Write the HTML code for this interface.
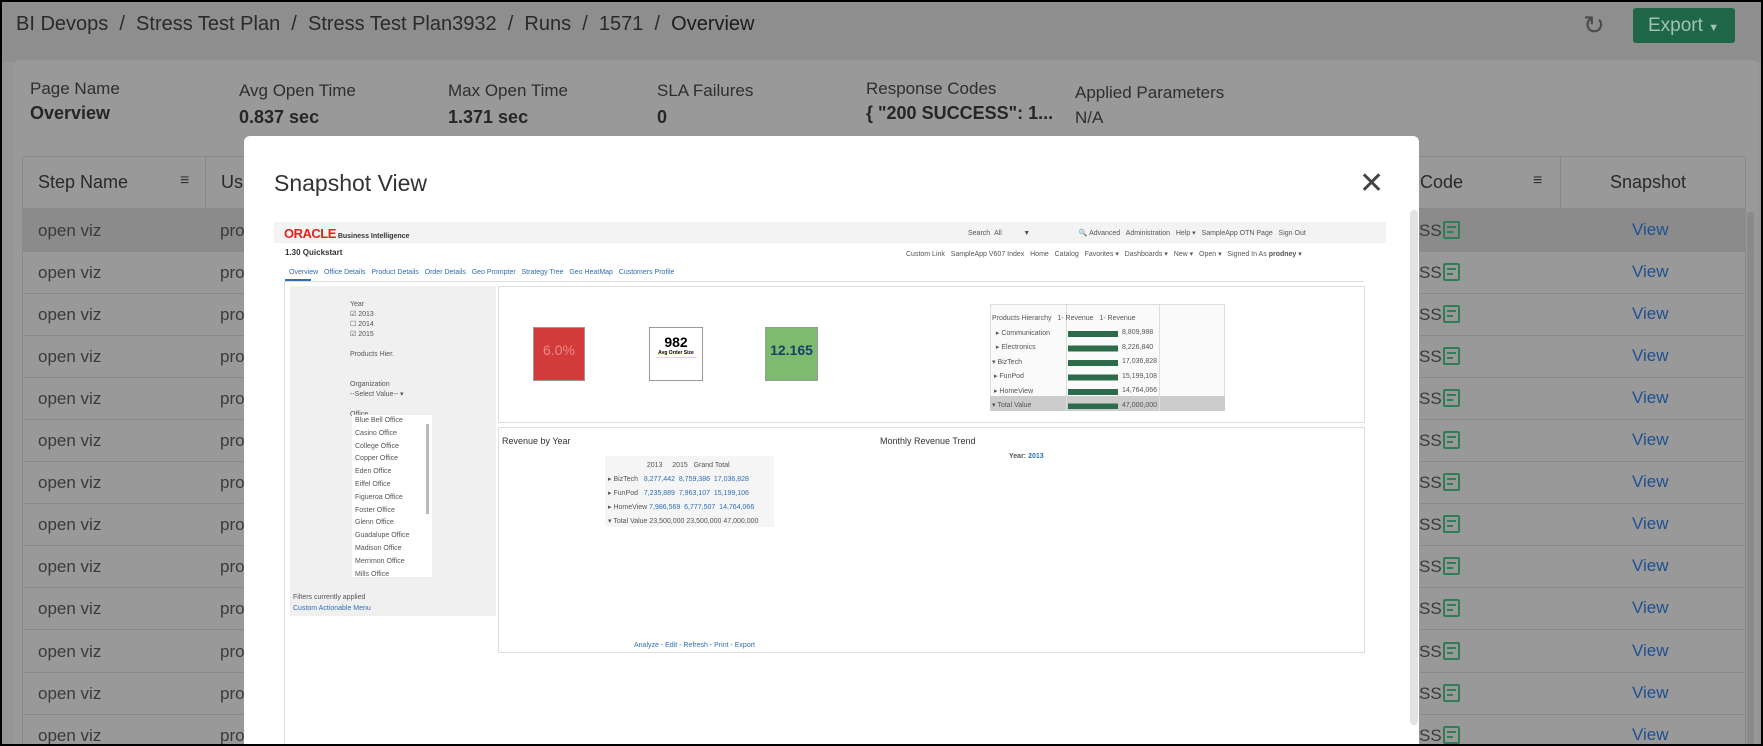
<!DOCTYPE html>
<html><head><meta charset="utf-8"><style>
*{margin:0;padding:0;box-sizing:border-box}
html{width:1763px;height:746px;overflow:hidden}
body{width:1763px;height:746px;overflow:hidden;background:#959595;font-family:"Liberation Sans",sans-serif;position:relative}
.a{position:absolute;white-space:nowrap}
.frame{position:absolute;left:0;top:0;width:1763px;height:746px;border:2px solid #000;z-index:50;pointer-events:none}
.s{font-size:7px;color:#555}
</style></head><body>
<!-- header -->
<div class="a" style="left:0;top:0;width:1763px;height:62px;background:#8e8e8e"></div>
<div class="a" style="left:16px;top:13px;font-size:20px;color:#2a2a2a">BI Devops &nbsp;/&nbsp; Stress Test Plan &nbsp;/&nbsp; Stress Test Plan3932 &nbsp;/&nbsp; Runs &nbsp;/&nbsp; 1571 &nbsp;/&nbsp; <span style="color:#1c1c1c">Overview</span></div>
<div class="a" style="left:1583px;top:10px;font-size:26px;color:#4a4a4a">&#x21bb;</div>
<div class="a" style="left:1633px;top:8px;width:102px;height:35px;background:#1f6547;border-radius:3px;color:#9fc4b2;font-size:19px;line-height:35px;padding-left:15px">Export <span style="font-size:11px">&#9660;</span></div>
<!-- metrics panel -->
<div class="a" style="left:14px;top:60px;width:1744px;height:686px;background:#999;border-radius:6px 6px 0 0"></div>
<div class="a" style="left:30px;top:79px;font-size:17px;color:#2e2e2e">Page Name</div>
<div class="a" style="left:30px;top:103px;font-size:18px;font-weight:bold;color:#262626">Overview</div>
<div class="a" style="left:239px;top:81px;font-size:17px;color:#2e2e2e">Avg Open Time</div>
<div class="a" style="left:239px;top:107px;font-size:18px;font-weight:bold;color:#262626">0.837 sec</div>
<div class="a" style="left:448px;top:81px;font-size:17px;color:#2e2e2e">Max Open Time</div>
<div class="a" style="left:448px;top:107px;font-size:18px;font-weight:bold;color:#262626">1.371 sec</div>
<div class="a" style="left:657px;top:81px;font-size:17px;color:#2e2e2e">SLA Failures</div>
<div class="a" style="left:657px;top:107px;font-size:18px;font-weight:bold;color:#262626">0</div>
<div class="a" style="left:866px;top:79px;font-size:17px;color:#2e2e2e">Response Codes</div>
<div class="a" style="left:866px;top:103px;font-size:18px;font-weight:bold;color:#262626">{ "200 SUCCESS": 1...</div>
<div class="a" style="left:1075px;top:83px;font-size:17px;color:#2e2e2e">Applied Parameters</div>
<div class="a" style="left:1075px;top:108px;font-size:17px;color:#2e2e2e">N/A</div>
<!-- table -->
<div class="a" style="left:22px;top:156px;width:1724px;height:590px;background:#999;border:1px solid #888;border-bottom:none"></div>
<div class="a" style="left:22px;top:156px;width:1724px;height:53px;border-bottom:1px solid #888"></div>
<div class="a" style="left:205px;top:156px;width:1px;height:53px;background:#888"></div>
<div class="a" style="left:1560px;top:156px;width:1px;height:53px;background:#888"></div>
<div class="a" style="left:38px;top:172px;font-size:18px;color:#2a2a2a">Step Name</div>
<div class="a" style="left:180px;top:172px;font-size:16px;color:#333">&#8801;</div>
<div class="a" style="left:221px;top:172px;font-size:18px;color:#2a2a2a">Us</div>
<div class="a" style="left:1420px;top:172px;font-size:18px;color:#2a2a2a">Code</div>
<div class="a" style="left:1533px;top:172px;font-size:16px;color:#333">&#8801;</div>
<div class="a" style="left:1610px;top:172px;font-size:18px;color:#2a2a2a">Snapshot</div>
<div class="a" style="left:22px;top:209px;width:1724px;height:43px;background:#8b8b8b"></div>
<div class="a" style="left:1747px;top:212px;width:7px;height:534px;background:#8a8a8a;border-radius:3px"></div>
<div id="rows"></div>
<!-- modal -->
<div class="a" style="left:244px;top:136px;width:1175px;height:610px;background:#fff;border-radius:6px 6px 0 0"></div>
<div class="a" style="left:274px;top:170px;font-size:23px;color:#333">Snapshot View</div>
<div class="a" style="left:1359px;top:166px;font-size:30px;color:#444;font-weight:300">&#x2715;</div>
<div class="a" style="left:1410px;top:210px;width:8px;height:515px;background:#e2e2e2;border-radius:4px"></div>
<!-- inner screenshot -->
<div class="a" style="left:274px;top:222px;width:1112px;height:524px;background:#fff"></div>
<div class="a" style="left:274px;top:222px;width:1112px;height:21px;background:#f3f3f3"></div>
<div class="a" style="left:284px;top:226px;font-size:13px;color:#e2231a;font-weight:bold;letter-spacing:-0.5px">ORACLE<span style="font-size:7px;color:#333;letter-spacing:0"> Business Intelligence</span></div>
<div class="a s" style="left:968px;top:229px">Search &nbsp;All &nbsp; &nbsp; &nbsp; &nbsp; &nbsp; &#9660; &nbsp; &nbsp; &nbsp; &nbsp; &nbsp; &nbsp; &nbsp; &nbsp; &nbsp; &nbsp; &nbsp; &nbsp; &#x1F50D; Advanced &nbsp; Administration &nbsp; Help &#9662; &nbsp; SampleApp OTN Page &nbsp; Sign Out</div>
<div class="a" style="left:285px;top:248px;font-size:8px;font-weight:bold;color:#333">1.30 Quickstart</div>
<div class="a s" style="left:906px;top:250px">Custom Link &nbsp; SampleApp V607 Index &nbsp; Home &nbsp; Catalog &nbsp; Favorites &#9662; &nbsp; Dashboards &#9662; &nbsp; New &#9662; &nbsp; Open &#9662; &nbsp; Signed In As <b>prodney</b> &#9662;</div>
<div class="a s" style="left:289px;top:269px;color:#2f6fb5">Overview &nbsp; Office Details &nbsp; Product Details &nbsp; Order Details &nbsp; Geo Prompter &nbsp; Strategy Tree &nbsp; Geo HeatMap &nbsp; Customers Profile</div>
<div class="a" style="left:285px;top:279px;width:26px;height:2px;background:#2f6fb5"></div>
<div class="a" style="left:284px;top:281px;width:1080px;height:1px;background:#ddd"></div>
<div class="a" style="left:284px;top:281px;width:1px;height:465px;background:#ddd"></div>
<div class="a" style="left:290px;top:286px;width:206px;height:330px;background:#f0f0f0"></div>
<div class="a s" style="left:350px;top:300px;line-height:10px">Year<br>&#9745; 2013<br>&#9744; 2014<br>&#9745; 2015<br><br>Products Hier.<br><br><br>Organization<br>--Select Value-- &#9662;<br><br>Office</div>
<div class="a s" style="left:352px;top:415px;width:80px;height:162px;background:#fff;line-height:12.8px;padding-left:3px">Blue Bell Office<br>Casino Office<br>College Office<br>Copper Office<br>Eden Office<br>Eiffel Office<br>Figueroa Office<br>Foster Office<br>Glenn Office<br>Guadalupe Office<br>Madison Office<br>Merrimon Office<br>Mills Office</div>
<div class="a" style="left:426px;top:424px;width:3px;height:90px;background:#bbb"></div>
<div class="a s" style="left:293px;top:592px;line-height:11px">Filters currently applied<br><span style="color:#2f6fb5">Custom Actionable Menu</span></div>
<div class="a" style="left:498px;top:286px;width:867px;height:137px;border:1px solid #ddd"></div>
<div class="a" style="left:533px;top:327px;width:52px;height:54px;background:#d33b3b;border:1px solid #999;color:#e88;font-size:14px;text-align:center;padding-top:14px">6.0%</div>
<div class="a" style="left:649px;top:327px;width:54px;height:54px;background:#fff;border:1px solid #999;text-align:center;font-size:14px;font-weight:bold;padding-top:6px">982<div style="font-size:5px">Avg Order Size</div><div style="height:1px;background:#ee3;margin:1px 6px"></div></div>
<div class="a" style="left:765px;top:327px;width:53px;height:54px;background:#7dbb6e;border:1px solid #999;color:#1a3f6a;font-size:14px;font-weight:bold;text-align:center;padding-top:14px">12.165</div>
<div class="a" style="left:990px;top:304px;width:235px;height:107px;background:#fafafa;border:1px solid #ddd"></div>
<div class="a" style="left:990px;top:396px;width:235px;height:15px;background:#ccc"></div>
<div class="a" style="left:1066px;top:304px;width:1px;height:107px;background:#ddd"></div>
<div class="a" style="left:1159px;top:304px;width:1px;height:107px;background:#ddd"></div>
<div class="a s" style="left:992px;top:312px;line-height:14.5px">Products Hierarchy &nbsp; 1- Revenue &nbsp; 1- Revenue<br>&nbsp; &#9656; Communication<br>&nbsp; &#9656; Electronics<br>&#9662; BizTech<br>&nbsp;&#9656; FunPod<br>&nbsp;&#9656; HomeView<br>&#9662; Total Value</div>
<div class="a" style="left:1068px;top:327px;width:50px;height:82px;background:repeating-linear-gradient(180deg,transparent 0 4px,#2e6b4a 4px 10px,transparent 10px 14.5px)"></div>
<div class="a s" style="left:1122px;top:326px;line-height:14.5px">8,809,988<br>8,226,840<br>17,036,828<br>15,199,108<br>14,764,066<br>47,000,000</div>
<div class="a" style="left:498px;top:427px;width:867px;height:226px;border:1px solid #ddd"></div>
<div class="a" style="left:502px;top:436px;font-size:9px;color:#333">Revenue by Year</div>
<div class="a" style="left:880px;top:436px;font-size:9px;color:#333">Monthly Revenue Trend</div>
<div class="a s" style="left:1009px;top:453px;font-weight:bold">Year: <span style="color:#2f6fb5">2013</span></div>
<div class="a" style="left:605px;top:456px;width:169px;height:71px;background:#f5f5f5"></div>
<div class="a s" style="left:608px;top:459px;line-height:14px">&nbsp; &nbsp; &nbsp; &nbsp; &nbsp; &nbsp; &nbsp; &nbsp; &nbsp; &nbsp; 2013 &nbsp; &nbsp; 2015 &nbsp; Grand Total<br>&#9656; BizTech &nbsp; <span style="color:#2f6fb5">8,277,442 &nbsp;8,759,386 &nbsp;17,036,828</span><br>&#9656; FunPod &nbsp; <span style="color:#2f6fb5">7,235,889 &nbsp;7,963,107 &nbsp;15,199,106</span><br>&#9656; HomeView <span style="color:#2f6fb5">7,986,569 &nbsp;6,777,507 &nbsp;14,764,066</span><br>&#9662; Total Value 23,500,000 23,500,000 47,000,000</div>
<div class="a s" style="left:634px;top:642px;color:#2f6fb5">Analyze - Edit - Refresh - Print - Export</div>
<div class="frame"></div>
<script>
var r=document.getElementById('rows'),h='';
for(var i=0;i<13;i++){var y=209+i*42.05;
h+='<div class="a" style="left:22px;top:'+(y+42)+'px;width:1724px;height:1px;background:#8a8a8a"></div>';
h+='<div class="a" style="left:38px;top:'+(y+12)+'px;font-size:17px;color:#3a3a3a">open viz</div>';
h+='<div class="a" style="left:220px;top:'+(y+12)+'px;font-size:17px;color:#3a3a3a">pro</div>';
h+='<div class="a" style="left:1419px;top:'+(y+12)+'px;font-size:17px;color:#3a3a3a">SS</div>';
h+='<div class="a" style="left:1443px;top:'+(y+12)+'px;width:17px;height:18px;border:2px solid #2f7e55;border-radius:2px"><div style="margin:3px 2px;height:2px;width:9px;background:#2f7e55"></div><div style="margin:0 2px;height:2px;width:6px;background:#2f7e55"></div></div>';
h+='<div class="a" style="left:1632px;top:'+(y+11)+'px;font-size:17px;color:#1f4f8f">View</div>';}
r.innerHTML=h;
</script>
</body></html>
